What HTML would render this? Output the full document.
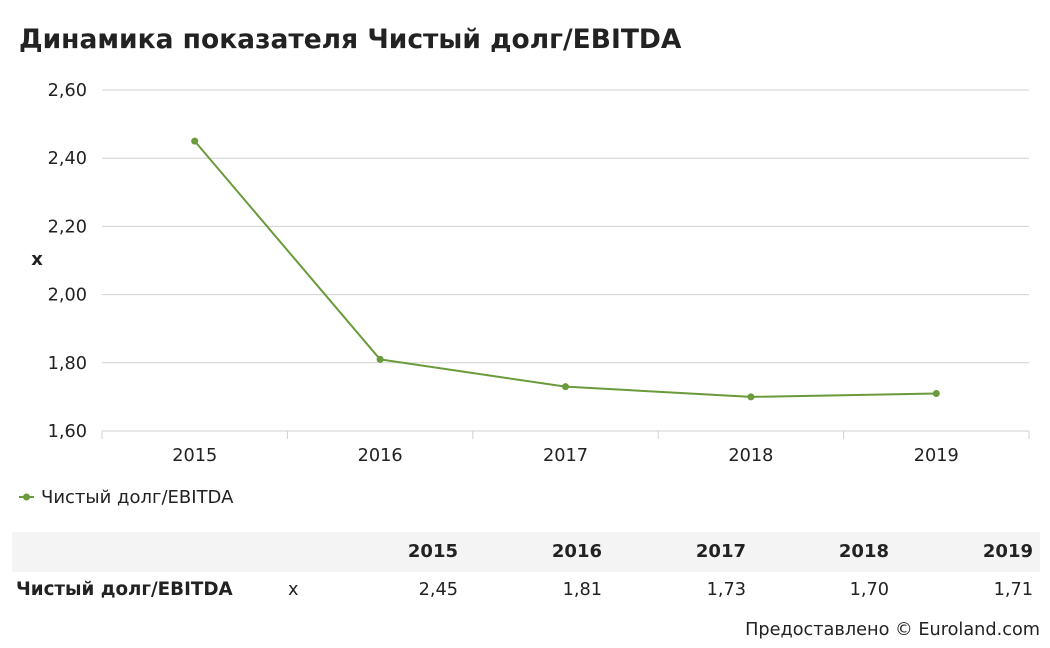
<!DOCTYPE html>
<html><head><meta charset="utf-8">
<style>
body{margin:0;width:1050px;height:648px;background:#fff;font-family:"DejaVu Sans","Liberation Sans",sans-serif;color:#222;overflow:hidden;position:relative}
.t{position:absolute;white-space:nowrap}
</style></head><body>
<div class="t" style="left:19px;top:24px;font-size:26.5px;font-weight:bold;color:#222">Динамика показателя Чистый долг/EBITDA</div>
<svg id="chart" width="1050" height="520" style="position:absolute;left:0;top:0" font-family="DejaVu Sans, Liberation Sans, sans-serif"></svg>
<div style="position:absolute;left:12px;top:532px;width:1028px;height:40px;background:#f4f4f4"></div>
<div id="tbl"></div>
<div class="t" style="right:10px;top:620px;font-size:17.7px;color:#222">Предоставлено © Euroland.com</div>
<script>
const categories=["2015","2016","2017","2018","2019"];
const values=[2.45,1.81,1.73,1.70,1.71];
const valueLabels=["2,45","1,81","1,73","1,70","1,71"];
const yTicks=[1.6,1.8,2.0,2.2,2.4,2.6];
const yTickLabels=["1,60","1,80","2,00","2,20","2,40","2,60"];
const NS="http://www.w3.org/2000/svg";
const svg=document.getElementById("chart");
const x0=102,x1=1029,yTop=90,yBot=431,yMin=1.6,yMax=2.6;
const bw=(x1-x0)/categories.length;
function xs(i){return x0+bw*(i+0.5);}
function ys(v){return yBot-(v-yMin)/(yMax-yMin)*(yBot-yTop);}
function mk(tag,attrs){const e=document.createElementNS(NS,tag);for(const k in attrs)e.setAttribute(k,attrs[k]);svg.appendChild(e);return e;}
yTicks.forEach((v,i)=>{
  const l=mk("line",{x1:x0,x2:x1,y1:ys(v),y2:ys(v),stroke:"#d0d0d0","stroke-width":1});
  
  
  const t=mk("text",{x:87,y:ys(v)+6,"text-anchor":"end","font-size":17.7,fill:"#222"});
  t.textContent=yTickLabels[i];
  
  
});
for(let i=0;i<=categories.length;i++){
  const tk=mk("line",{x1:x0+bw*i,x2:x0+bw*i,y1:yBot,y2:yBot+8,stroke:"#d0d0d0"});
  
  
}
categories.forEach((c,i)=>{
  const t=mk("text",{x:xs(i),y:461,"text-anchor":"middle","font-size":17.7,fill:"#222"});
  t.textContent=c;
  
  
});
const yt=mk("text",{x:37,y:265,"text-anchor":"middle","font-size":18,"font-weight":"bold",fill:"#222"});
yt.textContent="x";


const pl=mk("polyline",{points:values.map((v,i)=>xs(i)+","+ys(v)).join(" "),fill:"none",stroke:"#6a9a3a","stroke-width":2});


values.forEach((v,i)=>{
  const c=mk("circle",{cx:xs(i),cy:ys(v),r:3.5,fill:"#6a9a3a"});
  
  
});
const ll=mk("line",{x1:19,x2:34,y1:497,y2:497,stroke:"#6a9a3a","stroke-width":2});


const lc=mk("circle",{cx:26.5,cy:497,r:3.5,fill:"#6a9a3a"});


const lt=mk("text",{x:41,y:503,"font-size":18,fill:"#222"});
lt.textContent="Чистый долг/EBITDA";



const tbl=document.getElementById("tbl");
const colR=[458,602,746,889,1033];
function div(txt,style,name){const d=document.createElement("div");d.className="t";d.style.cssText=style;d.textContent=txt;


tbl.appendChild(d);}
categories.forEach((c,i)=>div(c,"right:"+(1050-colR[i])+"px;top:541px;font-size:18px;font-weight:bold;color:#222","table-year-header"));
div("Чистый долг/EBITDA","left:16px;top:579px;font-size:18.3px;font-weight:bold;color:#222","table-row-label");
div("x","left:288px;top:580px;font-size:17.7px;color:#222","table-unit");
valueLabels.forEach((v,i)=>div(v,"right:"+(1050-colR[i])+"px;top:580px;font-size:17.7px;color:#222","table-value"));
</script>
</body></html>
